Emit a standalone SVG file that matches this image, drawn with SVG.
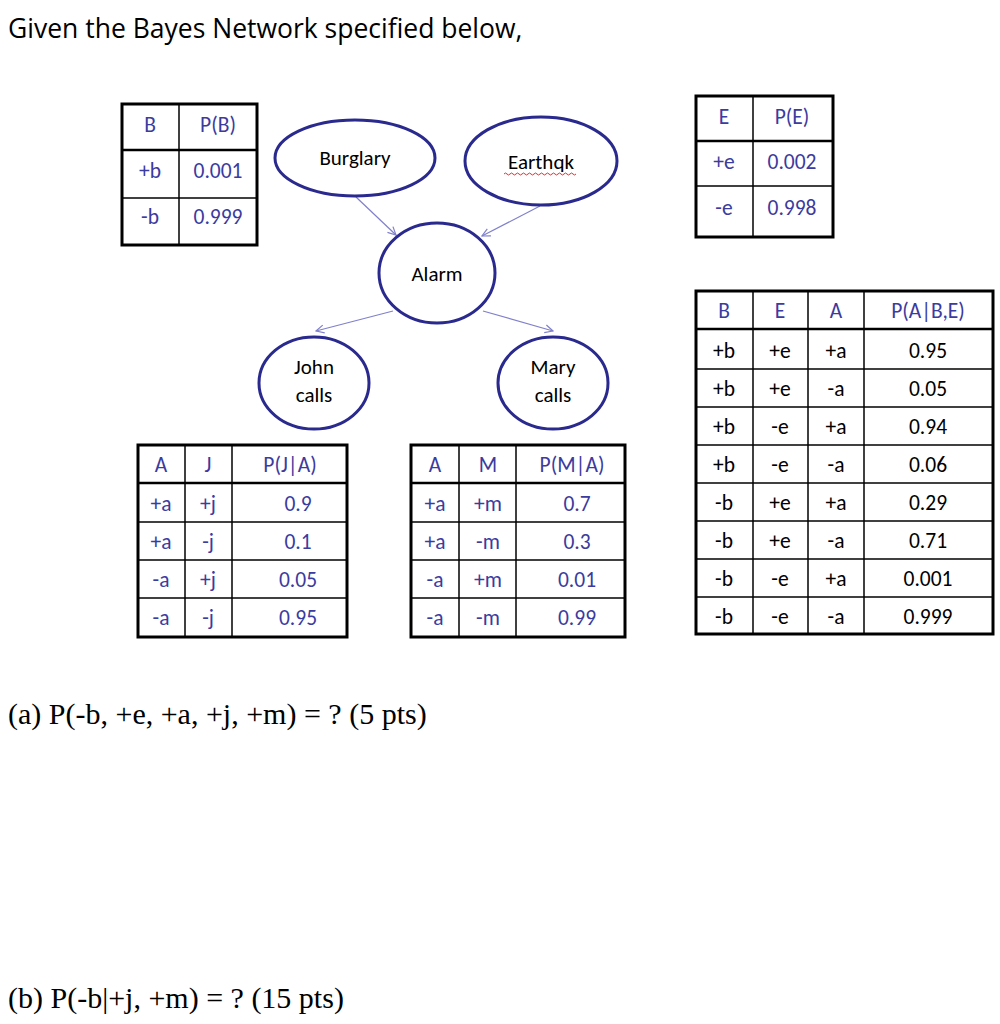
<svg xmlns="http://www.w3.org/2000/svg" width="1000" height="1024" viewBox="0 0 1000 1024">
<style>
.o{fill:#fff;stroke:#000;stroke-width:3}
.l{stroke:#000;stroke-width:1.5}
.h{stroke:#000;stroke-width:2.5}
.b{font-family:Calibri,Carlito,"Open Sans",sans-serif;font-size:21.5px;fill:#3b3ba0;text-anchor:middle}
.k{font-family:Calibri,Carlito,"Open Sans",sans-serif;font-size:21.5px;fill:#000;text-anchor:middle}
.n{fill:#fff;stroke:#2a2a8e;stroke-width:3}
.nt{font-family:Calibri,Carlito,"Open Sans",sans-serif;font-size:21px;fill:#000;text-anchor:middle}
.c{stroke:#8080cc;stroke-width:1.2;fill:none;marker-end:url(#a)}
.q{font-family:"Liberation Serif",serif;font-size:30px;fill:#000}
</style>
<defs><marker id="a" markerWidth="10" markerHeight="10" refX="9" refY="5" orient="auto" markerUnits="userSpaceOnUse"><path d="M1,1 L9,5 L1,9" fill="none" stroke="#8080cc" stroke-width="1.2"/></marker></defs>
<rect width="1000" height="1024" fill="#fff"/>
<text x="8" y="38" font-family="'Open Sans',sans-serif" font-size="26.5" fill="#000">Given the Bayes Network specified below,</text>

<g id="tableB">
<rect class="o" x="122" y="104" width="135" height="141"/>
<line class="l" x1="179" y1="104" x2="179" y2="245"/>
<line class="h" x1="122" y1="150" x2="257" y2="150"/>
<line class="l" x1="122" y1="198" x2="257" y2="198"/>
<text class="b" x="150" y="132">B</text><text class="b" x="218" y="132">P(B)</text>
<text class="b" x="150" y="178">+b</text><text class="b" x="218" y="178">0.001</text>
<text class="b" x="150" y="224">-b</text><text class="b" x="218" y="224">0.999</text>
</g>

<g id="tableE">
<rect class="o" x="696" y="96" width="137" height="141"/>
<line class="l" x1="753" y1="96" x2="753" y2="237"/>
<line class="h" x1="696" y1="141" x2="833" y2="141"/>
<line class="l" x1="696" y1="186" x2="833" y2="186"/>
<text class="b" x="724" y="124">E</text><text class="b" x="792" y="124">P(E)</text>
<text class="b" x="724" y="169">+e</text><text class="b" x="792" y="169">0.002</text>
<text class="b" x="724" y="215">-e</text><text class="b" x="792" y="215">0.998</text>
</g>

<g id="connectors">
<line class="c" x1="356" y1="197" x2="396" y2="235"/>
<line class="c" x1="540" y1="206" x2="482" y2="236"/>
<line class="c" x1="393" y1="311" x2="316" y2="331"/>
<line class="c" x1="483" y1="311" x2="553" y2="331"/>
</g>

<g id="burglary"><ellipse class="n" cx="355" cy="158" rx="80" ry="38"/><text class="nt" x="355" y="165">Burglary</text></g>
<g id="earthqk"><ellipse class="n" cx="541" cy="161" rx="76" ry="44"/><text class="nt" x="541" y="169">Earthqk</text>
<path d="M504,174 q1.5,-2 3,0 t3,0 t3,0 t3,0 t3,0 t3,0 t3,0 t3,0 t3,0 t3,0 t3,0 t3,0 t3,0 t3,0 t3,0 t3,0 t3,0 t3,0 t3,0 t3,0 t3,0 t3,0 t3,0 t3,0" fill="none" stroke="#e03030" stroke-width="1"/></g>
<g id="alarm"><ellipse class="n" cx="437" cy="273" rx="58" ry="50"/><text class="nt" x="437" y="281">Alarm</text></g>
<g id="john"><ellipse class="n" cx="314" cy="383" rx="55" ry="46"/><text class="nt" x="314" y="374">John</text><text class="nt" x="314" y="402">calls</text></g>
<g id="mary"><ellipse class="n" cx="553" cy="383" rx="55" ry="46"/><text class="nt" x="553" y="374">Mary</text><text class="nt" x="553" y="402">calls</text></g>

<g id="tableA">
<rect class="o" x="696" y="291" width="297" height="343"/>
<line class="l" x1="753" y1="291" x2="753" y2="634"/>
<line class="l" x1="808" y1="291" x2="808" y2="634"/>
<line class="l" x1="864" y1="291" x2="864" y2="634"/>
<line class="h" x1="696" y1="329" x2="993" y2="329"/>
<line class="l" x1="696" y1="369" x2="993" y2="369"/>
<line class="l" x1="696" y1="407" x2="993" y2="407"/>
<line class="l" x1="696" y1="445" x2="993" y2="445"/>
<line class="l" x1="696" y1="483" x2="993" y2="483"/>
<line class="l" x1="696" y1="521" x2="993" y2="521"/>
<line class="l" x1="696" y1="559" x2="993" y2="559"/>
<line class="l" x1="696" y1="597" x2="993" y2="597"/>
<text class="b" x="724" y="318">B</text><text class="b" x="780" y="318">E</text><text class="b" x="836" y="318">A</text><text class="b" x="928" y="318">P(A|B,E)</text>
<text class="k" x="724" y="358">+b</text><text class="k" x="780" y="358">+e</text><text class="k" x="836" y="358">+a</text><text class="k" x="928" y="358">0.95</text>
<text class="k" x="724" y="396">+b</text><text class="k" x="780" y="396">+e</text><text class="k" x="836" y="396">-a</text><text class="k" x="928" y="396">0.05</text>
<text class="k" x="724" y="434">+b</text><text class="k" x="780" y="434">-e</text><text class="k" x="836" y="434">+a</text><text class="k" x="928" y="434">0.94</text>
<text class="k" x="724" y="472">+b</text><text class="k" x="780" y="472">-e</text><text class="k" x="836" y="472">-a</text><text class="k" x="928" y="472">0.06</text>
<text class="k" x="724" y="510">-b</text><text class="k" x="780" y="510">+e</text><text class="k" x="836" y="510">+a</text><text class="k" x="928" y="510">0.29</text>
<text class="k" x="724" y="548">-b</text><text class="k" x="780" y="548">+e</text><text class="k" x="836" y="548">-a</text><text class="k" x="928" y="548">0.71</text>
<text class="k" x="724" y="586">-b</text><text class="k" x="780" y="586">-e</text><text class="k" x="836" y="586">+a</text><text class="k" x="928" y="586">0.001</text>
<text class="k" x="724" y="624">-b</text><text class="k" x="780" y="624">-e</text><text class="k" x="836" y="624">-a</text><text class="k" x="928" y="624">0.999</text>
</g>

<g id="tableJ">
<rect class="o" x="138" y="445" width="209" height="192"/>
<line class="l" x1="185" y1="445" x2="185" y2="637"/>
<line class="l" x1="232" y1="445" x2="232" y2="637"/>
<line class="h" x1="138" y1="483" x2="347" y2="483"/>
<line class="l" x1="138" y1="522" x2="347" y2="522"/>
<line class="l" x1="138" y1="560" x2="347" y2="560"/>
<line class="l" x1="138" y1="598" x2="347" y2="598"/>
<text class="b" x="161" y="472">A</text><text class="b" x="208" y="472">J</text><text class="b" x="290" y="472">P(J|A)</text>
<text class="b" x="161" y="511">+a</text><text class="b" x="208" y="511">+j</text><text class="b" x="298" y="511">0.9</text>
<text class="b" x="161" y="549">+a</text><text class="b" x="208" y="549">-j</text><text class="b" x="298" y="549">0.1</text>
<text class="b" x="161" y="587">-a</text><text class="b" x="208" y="587">+j</text><text class="b" x="298" y="587">0.05</text>
<text class="b" x="161" y="625">-a</text><text class="b" x="208" y="625">-j</text><text class="b" x="298" y="625">0.95</text>
</g>

<g id="tableM">
<rect class="o" x="411" y="445" width="214" height="192"/>
<line class="l" x1="459" y1="445" x2="459" y2="637"/>
<line class="l" x1="516" y1="445" x2="516" y2="637"/>
<line class="h" x1="411" y1="483" x2="625" y2="483"/>
<line class="l" x1="411" y1="522" x2="625" y2="522"/>
<line class="l" x1="411" y1="560" x2="625" y2="560"/>
<line class="l" x1="411" y1="598" x2="625" y2="598"/>
<text class="b" x="435" y="472">A</text><text class="b" x="488" y="472">M</text><text class="b" x="572" y="472">P(M|A)</text>
<text class="b" x="435" y="511">+a</text><text class="b" x="488" y="511">+m</text><text class="b" x="577" y="511">0.7</text>
<text class="b" x="435" y="549">+a</text><text class="b" x="488" y="549">-m</text><text class="b" x="577" y="549">0.3</text>
<text class="b" x="435" y="587">-a</text><text class="b" x="488" y="587">+m</text><text class="b" x="577" y="587">0.01</text>
<text class="b" x="435" y="625">-a</text><text class="b" x="488" y="625">-m</text><text class="b" x="577" y="625">0.99</text>
</g>

<text class="q" x="8" y="724">(a) P(-b, +e, +a, +j, +m) = ? (5 pts)</text>
<text class="q" x="8" y="1008">(b) P(-b|+j, +m) = ? (15 pts)</text>
</svg>
